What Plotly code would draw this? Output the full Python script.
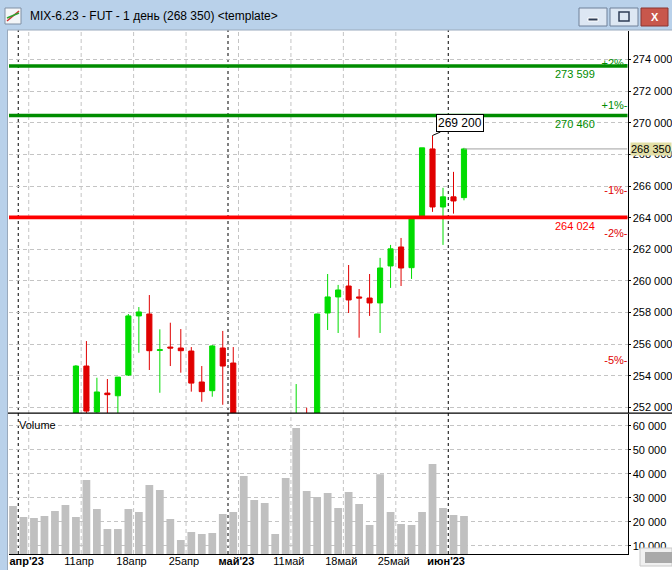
import plotly.graph_objects as go

# ---------------- data ----------------
dates = ["2023-03-31",
         "2023-04-03", "2023-04-04", "2023-04-05", "2023-04-06", "2023-04-07",
         "2023-04-10", "2023-04-11", "2023-04-12", "2023-04-13", "2023-04-14",
         "2023-04-17", "2023-04-18", "2023-04-19", "2023-04-20", "2023-04-21",
         "2023-04-24", "2023-04-25", "2023-04-26", "2023-04-27", "2023-04-28",
         "2023-05-02", "2023-05-03", "2023-05-04", "2023-05-05", "2023-05-08",
         "2023-05-10", "2023-05-11", "2023-05-12", "2023-05-15", "2023-05-16",
         "2023-05-17", "2023-05-18", "2023-05-19", "2023-05-22", "2023-05-23",
         "2023-05-24", "2023-05-25", "2023-05-26", "2023-05-29", "2023-05-30",
         "2023-05-31", "2023-06-01", "2023-06-02"]

opens = [250800, 251100, 250600, 251000, 250700, 250500, 251000, 254620, 251710, 252910,
         252740, 254050, 257790, 257910, 255610, 255820, 255760, 255570, 253610, 253060,
         255760, 254810, 251000, 250200, 250600, 250000, 250500, 249900, 251200, 250700,
         257975, 258990, 259680, 258990, 258920, 258610, 260950, 262150, 260840, 264100,
         268350, 264680, 265320, 265270]
highs = [251400, 251500, 251300, 251400, 251200, 251300, 254680, 256200, 253880, 253800,
         253920, 257910, 258350, 259110, 256940, 257360, 256960, 255820, 254620, 255950,
         256840, 255820, 251500, 251000, 251200, 250900, 251300, 253480, 251980, 257930,
         260440, 259750, 261010, 259490, 260440, 261460, 262280, 262720, 264050, 268420,
         269200, 265890, 266900, 268420]
lows = [250200, 250300, 250100, 250400, 249900, 250000, 250800, 251400, 251500, 251500,
        251500, 253990, 255460, 254370, 252930, 254620, 254200, 253000, 252360, 252680,
        252170, 250800, 249800, 249500, 249700, 249600, 249400, 249500, 250300, 250500,
        256900, 256710, 257975, 256410, 257790, 256710, 259560, 259680, 260130, 264050,
        264370, 262280, 264260, 265100]
closes = [251100, 250600, 251000, 250700, 250500, 251000, 254620, 251770, 252980, 252810,
          253920, 257790, 258040, 255590, 255650, 255760, 255590, 253540, 253000, 255890,
          254620, 251000, 250200, 250600, 250000, 250500, 249900, 251200, 250700, 257910,
          258990, 259430, 258800, 258920, 258610, 260820, 262030, 260820, 264000, 268420,
          264680, 265320, 265060, 268350]
volumes = [26630, 22060, 21640, 22470, 24550, 27050, 22060, 37440, 25390, 17070,
           17070, 25390, 24140, 35360, 33290, 21230, 12500, 15820, 14990, 15410,
           23310, 24140, 39110, 29130, 27880, 14990, 38270, 59060, 32870, 30370,
           32040, 25800, 32450, 27460, 18730, 39800, 24140, 19150, 18730, 24140,
           44100, 25800, 22890, 22470]

level_prices = [273599, 270460, 264024]
pct_levels = [2, 1, -1, -2, -5]
x_labels = ["апр'23", "11апр", "18апр", "25апр", "май'23", "11май", "18май", "25май", "июн'23"]

title_text = "MIX-6.23 - FUT - 1 день"

# ---------------- helpers ----------------
W, H = 672, 570
def PX(px):
    return px / W
def PY(py):
    return 1 - py / H
def fmt(v):
    return f"{int(round(v)):,}".replace(",", " ")

GREEN_C = "#00dc00"
RED_C = "#e00000"
LVL_G = "#008c00"
LVL_R = "#ff0000"

n = len(dates)
xs = list(range(n))
last_price = closes[-1]
x_min, x_max = -0.381, 58.59
price_dom = [PY(413), PY(30.5)]
vol_dom = [PY(554), PY(413.5)]

# ---------------- traces ----------------
fig = go.Figure()

pct_y = [last_price * (1 + p / 100) for p in pct_levels]
pct_txt = [f"{p:+d}%-" for p in pct_levels]
pct_col = [LVL_G if p > 0 else RED_C for p in pct_levels]
fig.add_trace(go.Scatter(x=[x_max] * len(pct_levels), y=pct_y, mode="text", text=pct_txt,
                         textposition="middle left", cliponaxis=False,
                         textfont=dict(color=pct_col, size=11, family="Liberation Sans, Arial"),
                         xaxis="x", yaxis="y", hoverinfo="skip"))

fig.add_trace(go.Candlestick(x=xs, open=opens, high=highs, low=lows, close=closes,
                             increasing=dict(line=dict(color=GREEN_C, width=1), fillcolor=GREEN_C),
                             decreasing=dict(line=dict(color=RED_C, width=1), fillcolor=RED_C),
                             whiskerwidth=0, xaxis="x", yaxis="y"))

fig.add_trace(go.Bar(x=xs, y=volumes, width=0.74, marker=dict(color="#c0c0c0", line=dict(width=0)),
                     xaxis="x", yaxis="y2"))

# ---------------- shapes ----------------
shapes = []
# window chrome
shapes.append(dict(type="rect", xref="paper", yref="paper", x0=0, x1=1, y0=PY(30), y1=1,
                   fillcolor="#b9d1ea", line=dict(width=0), layer="below"))
shapes.append(dict(type="rect", xref="paper", yref="paper", x0=0, x1=PX(7), y0=0, y1=1,
                   fillcolor="#b9d1ea", line=dict(width=0), layer="below"))
shapes.append(dict(type="line", xref="paper", yref="paper", x0=PX(7.5), x1=PX(7.5), y0=0, y1=PY(30),
                   line=dict(color="#9aaabd", width=1), layer="below"))
shapes.append(dict(type="line", xref="paper", yref="paper", x0=PX(7), x1=1, y0=PY(30), y1=PY(30),
                   line=dict(color="#9aaabd", width=1), layer="below"))
# title icon
shapes.append(dict(type="rect", xref="paper", yref="paper", x0=PX(5), x1=PX(21), y0=PY(24), y1=PY(8),
                   fillcolor="#f4f6f8", line=dict(color="#8090a4", width=1), layer="below"))
shapes.append(dict(type="line", xref="paper", yref="paper", x0=PX(7), x1=PX(19), y0=PY(21), y1=PY(11),
                   line=dict(color="#d03030", width=1.5), layer="below"))
shapes.append(dict(type="line", xref="paper", yref="paper", x0=PX(7), x1=PX(19), y0=PY(18), y1=PY(13),
                   line=dict(color="#30a030", width=1.5), layer="below"))
# buttons
for bx0, bx1, fill, edge in [(579, 607, "#dde7f3", "#6f8099"), (610, 638, "#dde7f3", "#6f8099"),
                             (641, 668, "#c8574c", "#8a3530")]:
    shapes.append(dict(type="rect", xref="paper", yref="paper", x0=PX(bx0), x1=PX(bx1), y0=PY(26), y1=PY(8),
                       fillcolor=fill, line=dict(color=edge, width=1), layer="below"))
shapes.append(dict(type="rect", xref="paper", yref="paper", x0=PX(588), x1=PX(598), y0=PY(21), y1=PY(18),
                   fillcolor="#2e3d55", line=dict(color="white", width=1), layer="below"))
shapes.append(dict(type="rect", xref="paper", yref="paper", x0=PX(619), x1=PX(629), y0=PY(21), y1=PY(12),
                   fillcolor="rgba(0,0,0,0)", line=dict(color="#2e3d55", width=1.5), layer="below"))
# bottom-right widget
shapes.append(dict(type="rect", xref="paper", yref="paper", x0=PX(640), x1=1, y0=PY(566), y1=PY(548),
                   fillcolor="#f0f0f0", line=dict(color="#c8c8c8", width=1), layer="above"))
shapes.append(dict(type="rect", xref="paper", yref="paper", x0=PX(645), x1=1, y0=PY(563), y1=PY(552),
                   fillcolor="#a9a9a9", line=dict(width=0), layer="above"))

# vertical grid (every 5 bars)
for k in range(8):
    gx = 1.5 + 5 * k
    shapes.append(dict(type="line", xref="x", yref="paper", x0=gx, x1=gx, y0=vol_dom[0], y1=price_dom[1],
                       line=dict(color="#c4c4c4", width=1, dash="4px,3px"), layer="below"))
# month separators
month_starts = [i for i in range(1, n) if dates[i][5:7] != dates[i - 1][5:7]]
for i in month_starts:
    shapes.append(dict(type="line", xref="x", yref="paper", x0=i - 0.5, x1=i - 0.5,
                       y0=vol_dom[0], y1=price_dom[1],
                       line=dict(color="black", width=1, dash="3px,3px"), layer="below"))
# last-price line
shapes.append(dict(type="line", xref="x", yref="y", x0=n - 1, x1=x_max, y0=last_price, y1=last_price,
                   line=dict(color="#a0a0a0", width=1), layer="above"))
# level lines
for lv in level_prices:
    col = LVL_G if lv > last_price else LVL_R
    shapes.append(dict(type="line", xref="x domain", yref="y", x0=0, x1=1, y0=lv, y1=lv,
                       line=dict(color=col, width=3.6), layer="above"))
# pane separator
shapes.append(dict(type="line", xref="paper", yref="paper", x0=PX(8), x1=1, y0=PY(413.2), y1=PY(413.2),
                   line=dict(color="black", width=1.2), layer="above"))

# ---------------- annotations ----------------
ann = []
ann.append(dict(xref="paper", yref="paper", x=PX(28), y=PY(16.5), xanchor="left", yanchor="middle",
                showarrow=False, text=f"{title_text} ({fmt(last_price)}) &lt;template&gt;",
                font=dict(family="Liberation Sans, Arial", size=12, color="black")))
ann.append(dict(xref="paper", yref="paper", x=PX(654.5), y=PY(17), xanchor="center", yanchor="middle",
                showarrow=False, text="<b>X</b>", font=dict(family="Liberation Sans, Arial", size=11, color="white")))
for lv in level_prices:
    col = LVL_G if lv > last_price else LVL_R
    ann.append(dict(xref="x domain", yref="y", x=(575 - 9) / 618.5, y=lv, yshift=-8.5,
                    xanchor="center", yanchor="middle", showarrow=False, text=fmt(lv),
                    font=dict(family="Liberation Sans, Arial", size=11, color=col)))
imax = highs.index(max(highs))
ann.append(dict(xref="x", yref="y", x=imax, y=highs[imax], ax=27, ay=-12, showarrow=True,
                arrowhead=0, arrowwidth=1, arrowcolor="black", standoff=0,
                text=fmt(highs[imax]), bgcolor="white", bordercolor="black", borderwidth=1, borderpad=1,
                font=dict(family="Liberation Sans, Arial", size=12, color="black")))
ann.append(dict(xref="paper", yref="y", x=1, y=last_price, xanchor="right", yanchor="middle",
                showarrow=False, text=fmt(last_price), bgcolor="#e2dfa6", borderpad=0,
                font=dict(family="Liberation Sans, Arial", size=11, color="black")))
ann.append(dict(xref="paper", yref="paper", x=PX(17), y=PY(425), xanchor="left", yanchor="middle",
                showarrow=False, text="Volume",
                font=dict(family="Liberation Sans, Arial", size=11, color="black")))

tick_vals = [1.5 + 5 * k - 0.2 for k in range(len(x_labels))]
tick_text = [f"<b>{t}</b>" if "'" in t else t for t in x_labels]

axis_font = dict(family="Liberation Sans, Arial", size=11, color="black")

fig.update_layout(
    width=W, height=H, margin=dict(l=0, r=0, t=0, b=0, pad=0),
    paper_bgcolor="white", plot_bgcolor="rgba(0,0,0,0)",
    showlegend=False, separators=", ", boxgap=0.3,
    font=axis_font,
    shapes=shapes, annotations=ann,
    xaxis=dict(domain=[PX(9), PX(627.5)], range=[x_min, x_max], anchor="y2",
               showline=True, linecolor="black", linewidth=1, ticks="",
               tickvals=tick_vals, ticktext=tick_text, tickfont=axis_font, ticklabelstandoff=-3,
               showgrid=False, zeroline=False, rangeslider=dict(visible=False), fixedrange=True),
    yaxis=dict(domain=price_dom, range=[251650, 275840], side="right", anchor="x",
               showline=True, linecolor="black", linewidth=1, ticks="outside", ticklen=2,
               tickcolor="black", dtick=2000, tick0=0, tickformat=",d", tickfont=axis_font,
               showgrid=True, gridcolor="#c4c4c4", griddash="4px,3px", gridwidth=1, zeroline=False),
    yaxis2=dict(domain=vol_dom, range=[6670, 65100], side="right", anchor="x",
                showline=True, linecolor="black", linewidth=1, ticks="outside", ticklen=2,
                tickcolor="black", dtick=10000, tick0=0, tickformat=",d", tickfont=axis_font,
                showgrid=True, gridcolor="#c4c4c4", griddash="4px,3px", gridwidth=1, zeroline=False),
)

fig.write_html("out.html", config={"displayModeBar": False},
               post_script="document.body.style.margin='0px';document.body.style.overflow='hidden';")
